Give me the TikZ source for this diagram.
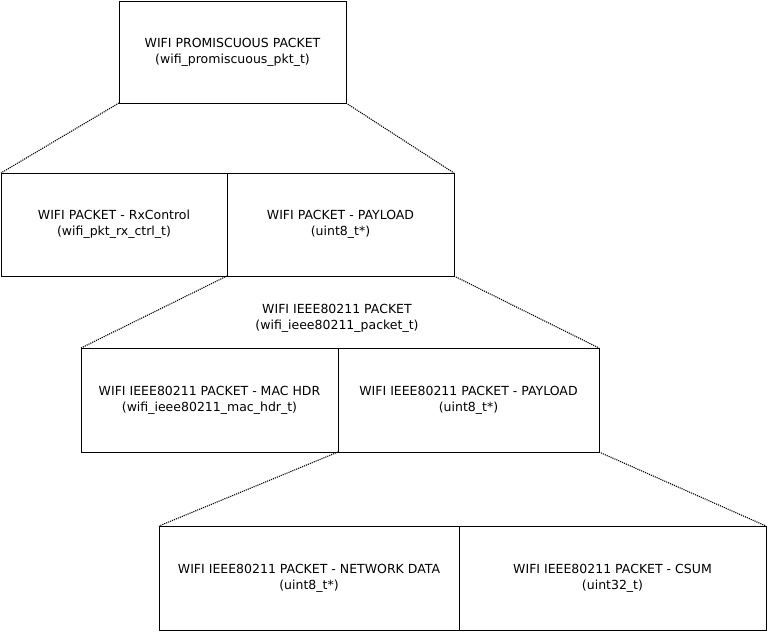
\documentclass[tikz,border=0pt]{standalone}
\usepackage{fontspec}
\setmainfont{DejaVu Sans}
\begin{document}
\begin{tikzpicture}[x=1pt,y=-1pt,
    box/.style={draw, line width=1pt, outer sep=0pt, inner sep=0pt, align=center,
        font=\fontsize{12.5}{16}\selectfont},
    zoomline/.style={line width=1.1pt, dash pattern=on 1.1pt off 1pt}]
            \useasboundingbox (0,0) rectangle (768,632);
            \node[box, minimum width=227, minimum height=102] (prom) at (232.5,52) {WIFI PROMISCUOUS PACKET\\(wifi\_promiscuous\_pkt\_t)};
            \node[box, minimum width=226, minimum height=103] (rx) at (114,224.5) {WIFI PACKET - RxControl\\(wifi\_pkt\_rx\_ctrl\_t)};
            \node[box, minimum width=227, minimum height=103] (pay) at (340.5,224.5) {WIFI PACKET - PAYLOAD\\(uint8\_t*)};
            \node[align=center, font=\fontsize{12.5}{16}\selectfont] (ieee) at (337,318) {WIFI IEEE80211 PACKET\\(wifi\_ieee80211\_packet\_t)};
            \node[box, minimum width=257, minimum height=104] (hdr) at (209.5,400) {WIFI IEEE80211 PACKET - MAC HDR\\(wifi\_ieee80211\_mac\_hdr\_t)};
            \node[box, minimum width=261, minimum height=104] (ipay) at (468.5,400) {WIFI IEEE80211 PACKET - PAYLOAD\\(uint8\_t*)};
            \node[box, minimum width=300, minimum height=104] (net) at (309,578) {WIFI IEEE80211 PACKET - NETWORK DATA\\(uint8\_t*)};
            \node[box, minimum width=307, minimum height=104] (csum) at (612.5,578) {WIFI IEEE80211 PACKET - CSUM\\(uint32\_t)};
            \draw[zoomline] (prom.south west) -- (rx.north west);
            \draw[zoomline] (prom.south east) -- (pay.north east);
            \draw[zoomline] (pay.south west) -- (hdr.north west);
            \draw[zoomline] (pay.south east) -- (ipay.north east);
            \draw[zoomline] (ipay.south west) -- (net.north west);
            \draw[zoomline] (ipay.south east) -- (csum.north east);
        \end{tikzpicture}
\end{document}
